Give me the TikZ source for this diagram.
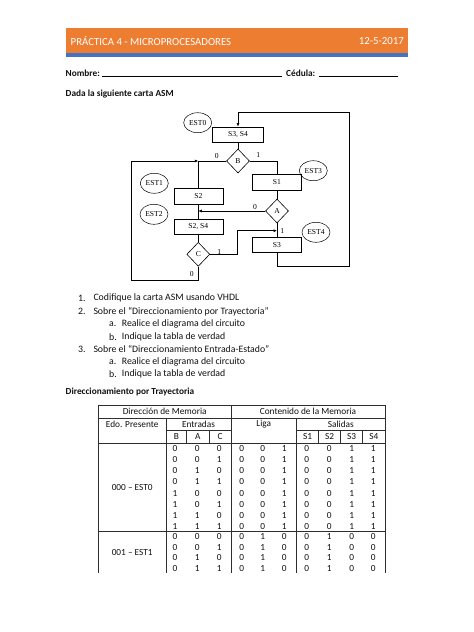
\documentclass[tikz,border=0pt]{standalone}
\usepackage{fontspec}
\setmainfont{Carlito}
\newfontfamily\asmfont{Liberation Serif}
\usetikzlibrary{shapes.geometric,arrows.meta}
\definecolor{hdrorange}{HTML}{ED7D31}
\definecolor{hdrblue}{HTML}{4472C4}
\definecolor{txt}{HTML}{111111}
\definecolor{rule}{HTML}{2E2E2E}
\begin{document}
\begin{tikzpicture}[x=1pt,y=-1pt,
  body/.style={font=\fontsize{9.8}{11}\selectfont, inner sep=0pt, text=txt},
  bodyb/.style={font=\fontsize{9.3}{11}\selectfont\bfseries, inner sep=0pt, text=txt},
  hdr/.style={font=\fontsize{10.8}{12}\selectfont, inner sep=0pt, text=white},
  asm/.style={font=\asmfont\fontsize{7.6}{8}\selectfont, inner sep=0pt},
  statebox/.style={asm, draw, line width=0.6pt, minimum height=15.5pt},
  decision/.style={asm, draw, diamond, line width=0.6pt, minimum width=23pt, minimum height=24pt, inner sep=0pt},
  stname/.style={asm, draw, ellipse, line width=0.5pt, minimum width=28pt, minimum height=20pt, inner sep=0pt},
  wire/.style={line width=0.6pt},
  arr/.style={wire, -{Latex[length=3.5pt,width=3pt]}},
  lbl/.style={asm},
  tcell/.style={font=\fontsize{9.3}{10}\selectfont, inner sep=0pt, text=txt},
  tline/.style={draw=rule, line width=0.75pt}
]
\useasboundingbox (0,0) rectangle (474,632);
\fill[white] (0,0) rectangle (474,632);

% header
\fill[hdrorange] (66,28) rectangle (408,53.3);
\fill[hdrblue] (66,53.3) rectangle (408,57.3);
\node[hdr, anchor=west] (title) at (70.5,41) {PRÁCTICA 4 - MICROPROCESADORES};
\node[hdr, anchor=east] (date) at (404,41) {12-5-2017};

% name line
\node[bodyb, anchor=west] (nombre) at (65.5,73) {Nombre:};
\draw[line width=0.6pt] (102,76.7) -- (282,76.7);
\node[bodyb, anchor=west] (cedula) at (286,73) {Cédula:};
\draw[line width=0.6pt] (319,76.7) -- (398,76.7);
\node[bodyb, anchor=west] (dada) at (65.5,94) {Dada la siguiente carta ASM};

% ASM chart
\node[statebox, minimum width=51pt] (s34) at (238,134.7) {S3, S4};
\node[decision] (B) at (238,161) {B};
\node[statebox, minimum width=49pt] (s1) at (277,182.5) {S1};
\node[decision] (A) at (277,211) {A};
\node[statebox, minimum width=49pt] (s3) at (277,244.7) {S3};
\node[statebox, minimum width=49pt] (s2) at (198.3,196.2) {S2};
\node[statebox, minimum width=49pt] (s24) at (198.3,226.8) {S2, S4};
\node[decision] (C) at (198.3,254.3) {C};

\node[stname] (e0) at (197.7,122.7) {EST0};
\node[stname] (e3) at (313.3,170.7) {EST3};
\node[stname] (e1) at (154.3,183.3) {EST1};
\node[stname] (e2) at (154,214.3) {EST2};
\node[stname] (e4) at (316,232.3) {EST4};

\coordinate (j1) at (198.3,161);
\coordinate (j2) at (198.3,211);
\coordinate (j3) at (277,230.7);
\coordinate (cbot) at (198.3,280);
\coordinate (lft) at (131.7,280);
\coordinate (cright) at (237.3,254.3);
\coordinate (s3bot) at (277,266.7);
\coordinate (rgt) at (349.3,112.7);

\draw[wire] (s34) -- (B);
\draw[wire] (B.west) -- (j1) -- (s2.north);
\draw[arr] (C.south) -- (cbot) -- (lft) |- (j1);
\draw[wire] (B.east) -| (s1.north);
\draw[wire] (s1) -- (A);
\draw[wire] (s2) -- (s24);
\draw[arr] (A.west) -- (j2);
\draw[wire] (A.south) -- (s3.north);
\draw[wire] (s24) -- (C);
\draw[arr] (C.east) -- (cright) |- (j3);
\draw[arr] (s3.south) -- (s3bot) -| (rgt) -| (s34.north);

\node[lbl] (l0b) at (216.7,156.5) {0};
\node[lbl] (l1b) at (258.3,155) {1};
\node[lbl] (l0a) at (255,207.3) {0};
\node[lbl] (l1a) at (282.3,231) {1};
\node[lbl] (l1c) at (219.3,251.5) {1};
\node[lbl] (l0c) at (191.7,274) {0};

% list
\node[body, anchor=west] (n1) at (78,298.3) {1.};
\node[body, anchor=west] (t1) at (93.3,298.3) {Codifique la carta ASM usando VHDL};
\node[body, anchor=west] (n2) at (78,311.7) {2.};
\node[body, anchor=west] (t2) at (93.3,311.7) {Sobre el “Direccionamiento por Trayectoria”};
\node[body, anchor=west] (n2a) at (109,324) {a.};
\node[body, anchor=west] (t2a) at (121.7,324) {Realice el diagrama del circuito};
\node[body, anchor=west] (n2b) at (109,336.7) {b.};
\node[body, anchor=west] (t2b) at (121.7,336.7) {Indique la tabla de verdad};
\node[body, anchor=west] (n3) at (78,349) {3.};
\node[body, anchor=west] (t3) at (93.3,349) {Sobre el “Direccionamiento Entrada-Estado”};
\node[body, anchor=west] (n3a) at (109,361.7) {a.};
\node[body, anchor=west] (t3a) at (121.7,361.7) {Realice el diagrama del circuito};
\node[body, anchor=west] (n3b) at (109,374) {b.};
\node[body, anchor=west] (t3b) at (121.7,374) {Indique la tabla de verdad};

\node[bodyb, anchor=west] (dir) at (65.5,392.3) {Direccionamiento por Trayectoria};

% table lines
\draw[tline] (98.3,405) -- (385,405);
\draw[tline] (98.3,418.3) -- (385,418.3);
\draw[tline] (166,430.7) -- (231,430.7);
\draw[tline] (296.7,430.7) -- (385,430.7);
\draw[tline] (98.3,443.3) -- (385,443.3);
\draw[tline] (98.3,531.7) -- (385,531.7);
\draw[tline] (98.3,405) -- (98.3,573.3);
\draw[tline] (385,405) -- (385,573.3);
\draw[tline] (231,405) -- (231,573.3);
\draw[tline] (166,418.3) -- (166,573.3);
\draw[tline] (296.7,418.3) -- (296.7,573.3);
\foreach \xx in {186.7,209,318.3,340.7,362.7}
  \draw[tline] (\xx,430.7) -- (\xx,443.3);

% table headers
\node[tcell] (h1) at (164.7,411.7) {Dirección de Memoria};
\node[tcell] (h2) at (308,411.7) {Contenido de la Memoria};
\node[tcell] (h3) at (132.2,424.5) {Edo. Presente};
\node[tcell] (h4) at (198.5,424.5) {Entradas};
\node[tcell] (h5) at (263.8,424.5) {Liga};
\node[tcell] (h6) at (340.8,424.5) {Salidas};
\node[tcell] (hb) at (176.3,437) {B};
\node[tcell] (ha) at (197.9,437) {A};
\node[tcell] (hc) at (220,437) {C};
\node[tcell] (hs1) at (307.5,437) {S1};
\node[tcell] (hs2) at (329.5,437) {S2};
\node[tcell] (hs3) at (351.7,437) {S3};
\node[tcell] (hs4) at (373.9,437) {S4};

\node[tcell] (g0) at (132.2,487.5) {000 – EST0};
\node[tcell] (g1) at (132.2,552.5) {001 – EST1};

% group 1 data
\foreach \r in {0,...,7} {
  \pgfmathsetmacro{\yy}{443.3+11.05*(\r+0.5)}
  \pgfmathtruncatemacro{\bb}{\r/4}
  \pgfmathtruncatemacro{\aa}{mod(int(\r/2),2)}
  \pgfmathtruncatemacro{\cc}{mod(\r,2)}
  \node[tcell] (ab\r) at (175,\yy) {\bb};
  \node[tcell] (aa\r) at (197.3,\yy) {\aa};
  \node[tcell] (ac\r) at (219.3,\yy) {\cc};
  \node[tcell] (al1\r) at (241.7,\yy) {0};
  \node[tcell] (al2\r) at (262.7,\yy) {0};
  \node[tcell] (al3\r) at (284.3,\yy) {1};
  \node[tcell] (as1\r) at (306.7,\yy) {0};
  \node[tcell] (as2\r) at (329.3,\yy) {0};
  \node[tcell] (as3\r) at (351.7,\yy) {1};
  \node[tcell] (as4\r) at (373.3,\yy) {1};
}
% group 2 data
\foreach \r in {0,...,3} {
  \pgfmathsetmacro{\yy}{531.7+10.4*(\r+0.5)}
  \pgfmathtruncatemacro{\aa}{int(\r/2)}
  \pgfmathtruncatemacro{\cc}{mod(\r,2)}
  \node[tcell] (bb\r) at (175,\yy) {0};
  \node[tcell] (ba\r) at (197.3,\yy) {\aa};
  \node[tcell] (bc\r) at (219.3,\yy) {\cc};
  \node[tcell] (bl1\r) at (241.7,\yy) {0};
  \node[tcell] (bl2\r) at (262.7,\yy) {1};
  \node[tcell] (bl3\r) at (284.3,\yy) {0};
  \node[tcell] (bs1\r) at (306.7,\yy) {0};
  \node[tcell] (bs2\r) at (329.3,\yy) {1};
  \node[tcell] (bs3\r) at (351.7,\yy) {0};
  \node[tcell] (bs4\r) at (373.3,\yy) {0};
}
\end{tikzpicture}
\end{document}
